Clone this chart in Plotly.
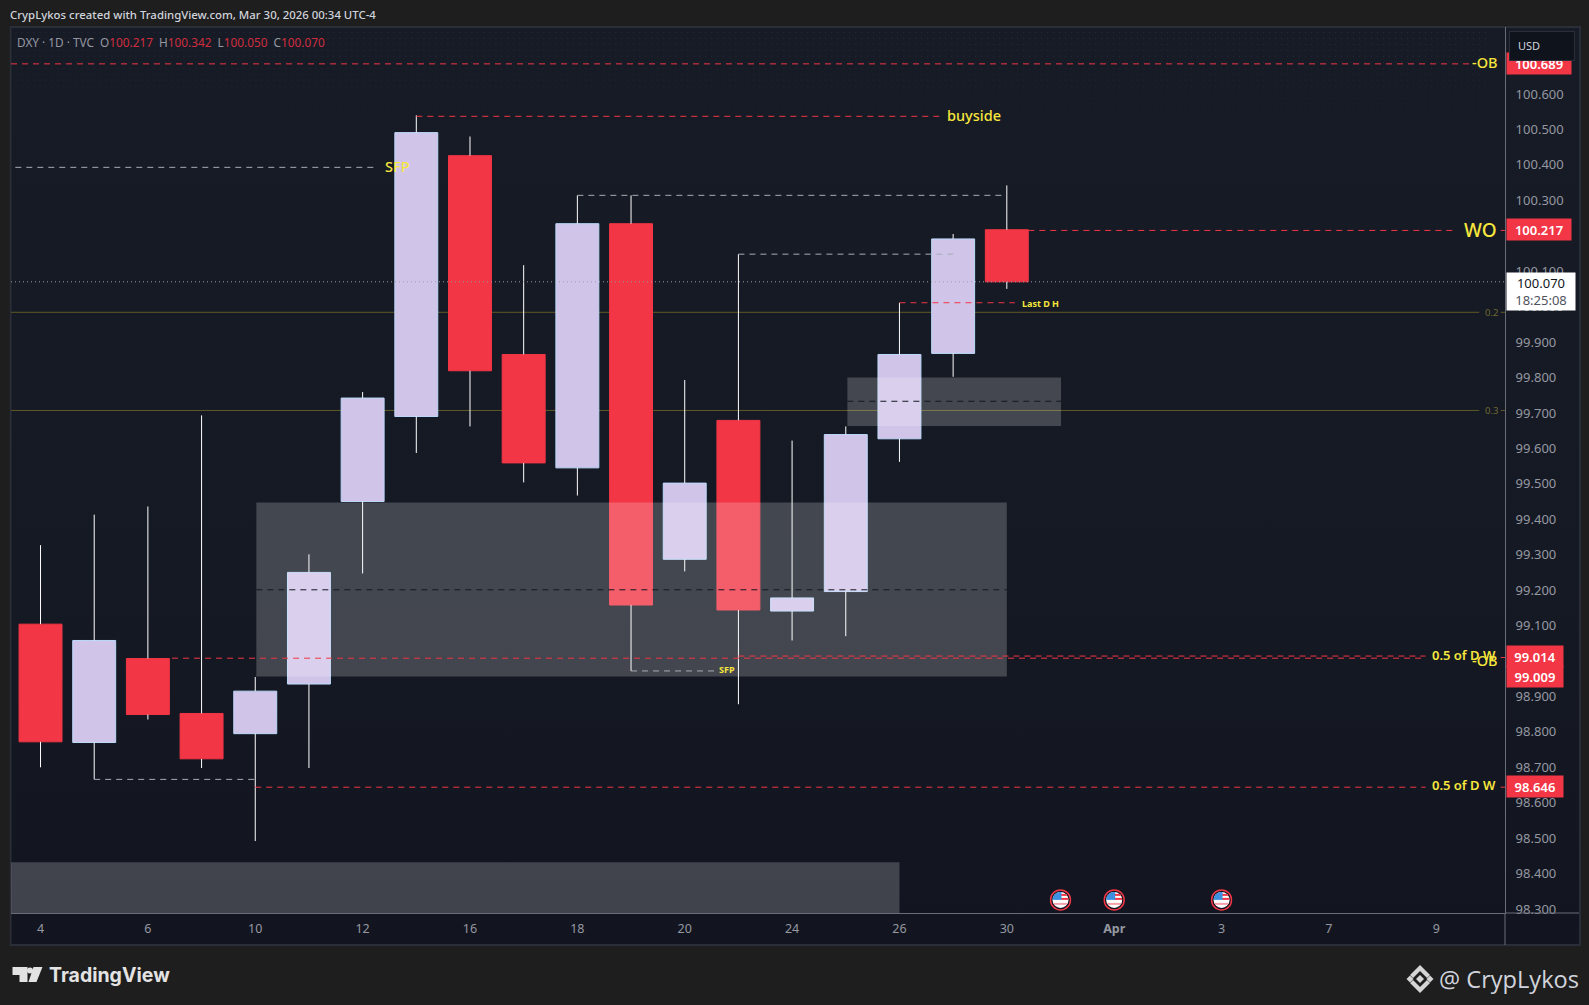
import base64
import plotly.graph_objects as go

# page geometry (pixels)
W, H = 1589, 1005
L, R, T, B = 10.5, 1505, 27, 913

# candles, Mar 4 onwards
bar_index = list(range(19))
opens = [99.104, 98.770, 99.007, 98.852, 98.795, 98.935, 99.450, 99.690, 100.426, 99.865,
         99.545, 100.234, 99.287, 99.679, 99.141, 99.196, 99.627, 99.868, 100.217]
highs = [99.327, 99.413, 99.436, 99.693, 98.955, 99.301, 99.759, 100.540, 100.480, 100.117,
         100.314, 100.314, 99.793, 100.148, 99.622, 99.662, 100.011, 100.205, 100.342]
lows = [98.700, 98.666, 98.835, 98.698, 98.492, 98.698, 99.247, 99.587, 99.662, 99.504,
        99.467, 98.972, 99.253, 98.878, 99.058, 99.070, 99.562, 99.802, 100.050]
closes = [98.772, 99.058, 98.849, 98.724, 98.915, 99.250, 99.742, 100.491, 99.819, 99.559,
          100.234, 99.158, 99.502, 99.144, 99.178, 99.639, 99.865, 100.191, 100.070]

# axis labels
x_tickvals = [0, 2, 4, 6, 8, 10, 12, 14, 16, 18, 20, 22, 24, 26]
x_ticktext = ["4", "6", "10", "12", "16", "18", "20", "24", "26", "30", "<b>Apr</b>", "3", "7", "9"]
y_tickvals = [98.3, 98.4, 98.5, 98.6, 98.7, 98.8, 98.9, 99.0, 99.1, 99.2, 99.3, 99.4,
              99.5, 99.6, 99.7, 99.8, 99.9, 100.0, 100.1, 100.2, 100.3, 100.4, 100.5, 100.6, 100.7]
x_range = [-0.55, 27.28]
y_range = [98.289, 100.789]

# drawings: (price, from bar, to bar)
red_levels = [(100.685, -0.55, 26.65), (100.537, 7.0, 16.74), (100.215, 18.4, 26.3), (100.215, 27.2, 27.28),
              (99.014, 13.0, 25.8), (99.008, 2.45, 25.8), (99.010, 27.2, 27.28),
              (98.644, 4.0, 25.8), (98.644, 27.2, 27.28), (100.011, 16.0, 18.15)]
white_levels = [(100.393, -0.47, 6.28), (100.314, 10.0, 18.0), (100.148, 13.0, 17.0),
                (98.666, 1.0, 4.0), (98.972, 11.0, 12.56)]
fib_levels = [(99.984, -0.55, 26.8), (99.984, 27.2, 27.28), (99.707, -0.55, 26.8), (99.707, 27.2, 27.28)]
zones = [(4.02, 18.0, 98.956, 99.447), (15.03, 19.01, 99.663, 99.800), (-0.55, 16.0, 98.289, 98.432)]
zone_mids = [(99.201, 4.02, 18.0), (99.733, 15.03, 19.01)]
last_price = 100.070
event_bars = [19, 20, 22]
event_price = 98.326

labels_big = [("WO", 26.82, 100.217)]
labels_mid = [("buyside", 17.39, 100.540), ("SFP", 6.65, 100.396), ("-OB", 26.9, 100.689), ("-OB", 26.9, 99.002)]
labels_fivew = [("0.5 of D W", 26.52, 99.018), ("0.5 of D W", 26.52, 98.650)]
labels_small = [("SFP", 12.79, 98.975), ("Last D H", 18.62, 100.009)]
labels_fib = [("0.2", 27.02, 99.984), ("0.3", 27.02, 99.707)]
price_tags = [("100.689", 100.687, 64), ("100.217", 100.217, 64), ("99.014", 99.014, 56),
              ("99.009", 98.955, 56), ("98.646", 98.646, 56)]

RED = "#f23645"
LILAC = "#d1c4e9"
YELLOW = "#f7e73c"
FONT = "Noto Sans"


def px(x):
    return (x - L) / (R - L)


def py(y):
    return (B - y) / (B - T)


def svg_uri(svg):
    return "data:image/svg+xml;base64," + base64.b64encode(svg.encode()).decode()


def poly(points):
    return "M" + " L".join(f"{px(x):.5f},{py(y):.5f}" for x, y in points) + " Z"


body_tops = [max(o, c) for o, c in zip(opens, closes)]
body_bottoms = [min(o, c) for o, c in zip(opens, closes)]

fig = go.Figure()

# bodies as bars, they can be wider than a candlestick box
fig.add_trace(go.Bar(
    x=bar_index, base=body_bottoms, y=[t - b for t, b in zip(body_tops, body_bottoms)], width=0.8,
    marker=dict(color=[LILAC if c >= o else RED for o, c in zip(opens, closes)],
                line=dict(color=["#bbd9fb" if c >= o else RED for o, c in zip(opens, closes)], width=1)),
    showlegend=False, hoverinfo="skip",
))

# wicks: candlesticks with boxgap=1 collapse to the white line only
white_line = dict(line=dict(color="#ffffff", width=1), fillcolor="#ffffff")
fig.add_trace(go.Candlestick(
    x=bar_index, open=body_tops, close=body_tops, high=highs, low=body_tops,
    increasing=white_line, decreasing=white_line, whiskerwidth=0, showlegend=False, hoverinfo="skip",
))
fig.add_trace(go.Candlestick(
    x=bar_index, open=body_bottoms, close=body_bottoms, high=body_bottoms, low=lows,
    increasing=white_line, decreasing=white_line, whiskerwidth=0, showlegend=False, hoverinfo="skip",
))

for x0, x1, y0, y1 in zones:
    fig.add_shape(type="rect", x0=x0, x1=x1, y0=y0, y1=y1, fillcolor="rgba(255,255,255,0.2)",
                  line_width=0, layer="above")


def level(price, x0, x1, color, dash, layer="above"):
    fig.add_shape(type="line", x0=x0, x1=x1, y0=price, y1=price, layer=layer,
                  line=dict(color=color, width=1, dash=dash))


for p, a, b in fib_levels:
    level(p, a, b, "#5d5826", "solid", layer="below")
for p, a, b in zone_mids:
    level(p, a, b, "#131722", "6px,5px")
for p, a, b in white_levels:
    level(p, a, b, "#a8abb4", "6px,5px")
for p, a, b in red_levels:
    level(p, a, b, RED, "6px,5px")
level(last_price, x_range[0], x_range[1], "#9a9da6", "1px,3px")


def label(text, x, y, size, color=YELLOW, weight=400):
    fig.add_annotation(text=text, x=x, y=y, xref="x", yref="y", showarrow=False,
                       font=dict(family=FONT, size=size, color=color, weight=weight))


for t, x, y in labels_big:
    label(t, x, y, 19, weight=500)
for t, x, y in labels_mid:
    label(t, x, y, 14.5, weight=500)
for t, x, y in labels_fivew:
    label(t, x, y, 13, weight=600)
for t, x, y in labels_small:
    label(t, x, y, 9, weight=700)
for t, x, y in labels_fib:
    label(t, x, y, 9.5, color="#6e6a2f")

# price tags on the scale
for t, y, w in price_tags:
    fig.add_annotation(text=t, x=px(1506), y=y, xref="paper", yref="y", xanchor="left", yanchor="middle",
                       showarrow=False, bgcolor=RED, width=w, height=21, align="center",
                       font=dict(family=FONT, size=13, color="#ffffff", weight=600), borderpad=0)
fig.add_annotation(text='100.070<br><span style="color:#50535e">18:25:08</span>',
                   x=px(1506), y=py(272), xref="paper", yref="paper", xanchor="left", yanchor="top",
                   showarrow=False, bgcolor="#ffffff", width=68, height=37, align="center",
                   font=dict(family=FONT, size=13, color="#131722"), borderpad=0)
fig.add_annotation(text="&nbsp;", x=px(1509), y=py(31), xref="paper", yref="paper",
                   xanchor="left", yanchor="top", showarrow=False, bgcolor="#0f131c",
                   bordercolor="#2a2e39", borderwidth=1, width=64, height=28, borderpad=0)
fig.add_annotation(text="USD", x=px(1516), y=py(45), xref="paper", yref="paper", xanchor="left", yanchor="middle",
                   showarrow=False, font=dict(family=FONT, size=11, color="#d1d4dc"))

# header, legend and footer text
fig.add_annotation(text="CrypLykos created with TradingView.com, Mar 30, 2026 00:34 UTC-4",
                   x=px(7), y=py(15), xref="paper", yref="paper", xanchor="left", yanchor="middle",
                   showarrow=False, font=dict(family=FONT, size=11.4, color="#d1d4dc", weight=500))
legend_red = '<span style="color:#d02e3e">{}</span>'
fig.add_annotation(text="DXY · 1D · TVC&nbsp;&nbsp;O" + legend_red.format("100.217") + "&nbsp;&nbsp;H"
                   + legend_red.format("100.342") + "&nbsp;&nbsp;L" + legend_red.format("100.050")
                   + "&nbsp;&nbsp;C" + legend_red.format("100.070"),
                   x=px(15), y=py(41.5), xref="paper", yref="paper", xanchor="left", yanchor="middle",
                   showarrow=False, font=dict(family=FONT, size=11.8, color="#9598a1"))
fig.add_annotation(text="<b>TradingView</b>", x=px(47), y=py(975), xref="paper", yref="paper",
                   xanchor="left", yanchor="middle", showarrow=False,
                   font=dict(family="Inter", size=19.5, color="#e3e3e3"))
fig.add_annotation(text="@ CrypLykos", x=px(1437), y=py(979), xref="paper", yref="paper",
                   xanchor="left", yanchor="middle", showarrow=False,
                   font=dict(family="Open Sans", size=23.6, color="#d1d4dc"))

# axis frame pieces that run outside the plot area, and a cover for the clipped 98.300 label
fig.add_shape(type="rect", xref="paper", yref="paper", x0=px(1506), x1=px(1578), y0=py(914), y1=py(930),
              fillcolor="#121520", line_width=0, layer="above")
fig.add_shape(type="line", xref="paper", yref="paper", x0=px(R), x1=px(1579), y0=py(B), y1=py(B),
              line=dict(color="#6a6d78", width=1), layer="above")
fig.add_shape(type="line", xref="paper", yref="paper", x0=px(R), x1=px(R), y0=py(B), y1=py(945),
              line=dict(color="#6a6d78", width=1), layer="above")

# footer logos
logo_parts = [
    [(12, 967), (27, 967), (27, 982), (19, 982), (19, 975), (12, 975)],
    [(33, 967), (42, 967), (36, 982), (28, 982)],
]
for part in logo_parts:
    fig.add_shape(type="path", xref="paper", yref="paper", path=poly(part), fillcolor="#e3e3e3",
                  line_width=0, layer="above")
fig.add_shape(type="circle", xref="paper", yref="paper", x0=px(26.5), x1=px(32.5), y0=py(973.5), y1=py(967.5),
              fillcolor="#e3e3e3", line_width=0, layer="above")
binance_parts = [
    [(1420, 965), (1430, 975), (1427, 978), (1420, 971), (1413, 978), (1410, 975)],
    [(1420, 993), (1430, 983), (1427, 980), (1420, 987), (1413, 980), (1410, 983)],
    [(1420, 975), (1424, 979), (1420, 983), (1416, 979)],
    [(1410, 975.5), (1413.5, 979), (1410, 982.5), (1406.5, 979)],
    [(1430, 975.5), (1433.5, 979), (1430, 982.5), (1426.5, 979)],
]
for part in binance_parts:
    fig.add_shape(type="path", xref="paper", yref="paper", path=poly(part), fillcolor="#d5d5d5",
                  line_width=0, layer="above")

# chart panel: border, dark gradient and the faint dots at the top
panel_svg = """<svg xmlns="http://www.w3.org/2000/svg" width="1572" height="920" viewBox="0 0 1572 920" preserveAspectRatio="none">
<defs><linearGradient id="g" x1="0" y1="0" x2="0" y2="1"><stop offset="0" stop-color="#171b26"/><stop offset="0.6" stop-color="#151924"/><stop offset="1" stop-color="#121520"/></linearGradient>
<pattern id="d" width="6" height="6" patternUnits="userSpaceOnUse"><rect width="1" height="1" fill="#2a2e3a"/></pattern>
<linearGradient id="f" x1="0" y1="0" x2="0" y2="1"><stop offset="0" stop-color="#fff"/><stop offset="1" stop-color="#000"/></linearGradient>
<mask id="m"><rect width="1572" height="110" fill="url(#f)"/></mask></defs>
<rect x="1" y="1" width="1570" height="918" fill="url(#g)" stroke="#2a2e39" stroke-width="2"/>
<rect x="3" y="3" width="1476" height="110" fill="url(#d)" mask="url(#m)"/></svg>"""

flag_svg = """<svg xmlns="http://www.w3.org/2000/svg" width="22" height="22" viewBox="0 0 22 22">
<defs><clipPath id="c"><circle cx="11" cy="11" r="8"/></clipPath></defs>
<circle cx="11" cy="11" r="10" fill="#131722" stroke="#f23645" stroke-width="1.5"/>
<g clip-path="url(#c)"><rect width="22" height="22" fill="#ffffff"/><rect x="3" y="5" width="16" height="2" fill="#f23645"/>
<rect x="11" y="9" width="8" height="2" fill="#f23645"/><rect x="3" y="14" width="16" height="2" fill="#f5a0a8"/>
<rect x="3" y="3" width="9" height="8" fill="#3d8fe0"/></g></svg>"""

images = [dict(source=svg_uri(panel_svg), xref="paper", yref="paper", x=px(9), y=py(26), sizex=1572 / (R - L),
               sizey=920 / (B - T), xanchor="left", yanchor="top", sizing="stretch", layer="below")]
for b in event_bars:
    images.append(dict(source=svg_uri(flag_svg), xref="x", yref="y", x=b, y=event_price,
                       sizex=22 / 53.7, sizey=22 / 354.4, xanchor="center", yanchor="middle",
                       sizing="stretch", layer="above"))

fig.update_layout(
    width=W, height=H, autosize=False,
    margin=dict(l=L, r=W - R, t=T, b=H - B, pad=0),
    paper_bgcolor="#1e1e1e", plot_bgcolor="rgba(0,0,0,0)",
    showlegend=False, barmode="overlay", boxgap=1, images=images,
    font=dict(family=FONT, color="#9598a1"),
    xaxis=dict(range=x_range, tickmode="array", tickvals=x_tickvals, ticktext=x_ticktext, rangeslider_visible=False,
               showgrid=False, zeroline=False, ticks="outside", ticklen=4, tickcolor="rgba(0,0,0,0)",
               showline=True, linecolor="#6a6d78", linewidth=1, tickfont=dict(family=FONT, size=12.5, color="#9598a1")),
    yaxis=dict(range=y_range, side="right", tickmode="array", tickvals=y_tickvals, tickformat=".3f",
               showgrid=False, zeroline=False, ticks="outside", ticklen=7, tickcolor="rgba(0,0,0,0)",
               showline=True, linecolor="#6a6d78", linewidth=1, tickfont=dict(family=FONT, size=13, color="#9598a1")),
)

fig.write_html("out.html", config=dict(displayModeBar=False),
               post_script="document.body.style.margin='0';document.body.style.background='#1e1e1e';")
